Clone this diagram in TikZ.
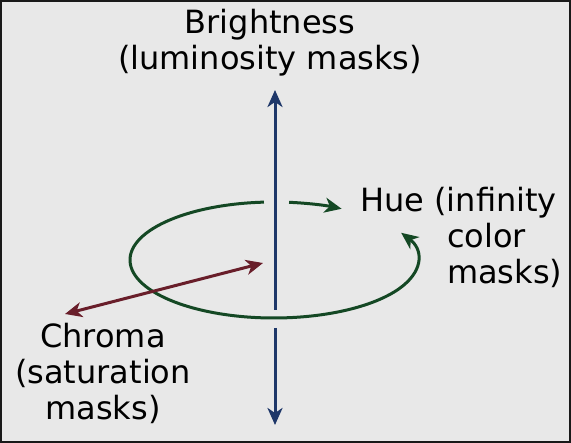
\documentclass[tikz,border=0pt]{standalone}
\usepackage{fontspec}
\setmainfont{DejaVu Sans}
\usetikzlibrary{positioning,arrows.meta}
\definecolor{bggray}{RGB}{232,232,232}
\definecolor{framec}{RGB}{25,25,25}
\definecolor{lumblue}{RGB}{30,55,105}
\definecolor{huegreen}{RGB}{20,72,36}
\definecolor{chromared}{RGB}{105,30,42}
\tikzset{
  axis/.style={line width=3bp, -{Stealth[length=17bp, width=15bp, inset=5bp]}},
  lumaxis/.style={axis, lumblue},
  huearc/.style={axis, huegreen},
  chromaaxis/.style={line width=3bp, chromared,
                     {Stealth[length=17bp, width=15bp, inset=5bp]}-{Stealth[length=17bp, width=15bp, inset=5bp]}},
  lbl/.style={font=\fontsize{32bp}{36bp}\selectfont, inner sep=0pt, anchor=base}
}

\begin{document}
\begin{tikzpicture}[x=1bp, y=1bp]
\useasboundingbox (0,0) rectangle (571,443);
\fill[bggray] (0,0) rectangle (571,443);
\draw[framec, line width=2bp] (1,1) rectangle (570,442);
\coordinate (hc) at (274,183);
\coordinate (lumtop) at (275,353);
\coordinate (lumup) at (275,133);
\coordinate (lumdn) at (275,115);
\coordinate (lumbot) at (275,18);
\coordinate (chromaout) at (65,129);
\coordinate (chromain) at (263,180);
\draw[huearc] (hc) ++(94:144 and 58) arc[start angle=94, end angle=388, x radius=144, y radius=58];
\draw[huearc] (hc) ++(84:144 and 58) arc[start angle=84, end angle=62, x radius=144, y radius=58];
\draw[lumaxis] (lumup) -- (lumtop);
\draw[lumaxis] (lumdn) -- (lumbot);
\draw[chromaaxis] (chromaout) -- (chromain);
\node (bright) [lbl, align=center] at (270,373) {Brightness\\(luminosity masks)};
\node (hue) [lbl, align=left, anchor=base west] at (360,159) {Hue (infinity\\\hspace*{87bp}color\\\hspace*{87bp}masks)};
\node (chroma) [lbl, align=center] at (103,23) {Chroma\\(saturation\\masks)};
\end{tikzpicture}
\end{document}
